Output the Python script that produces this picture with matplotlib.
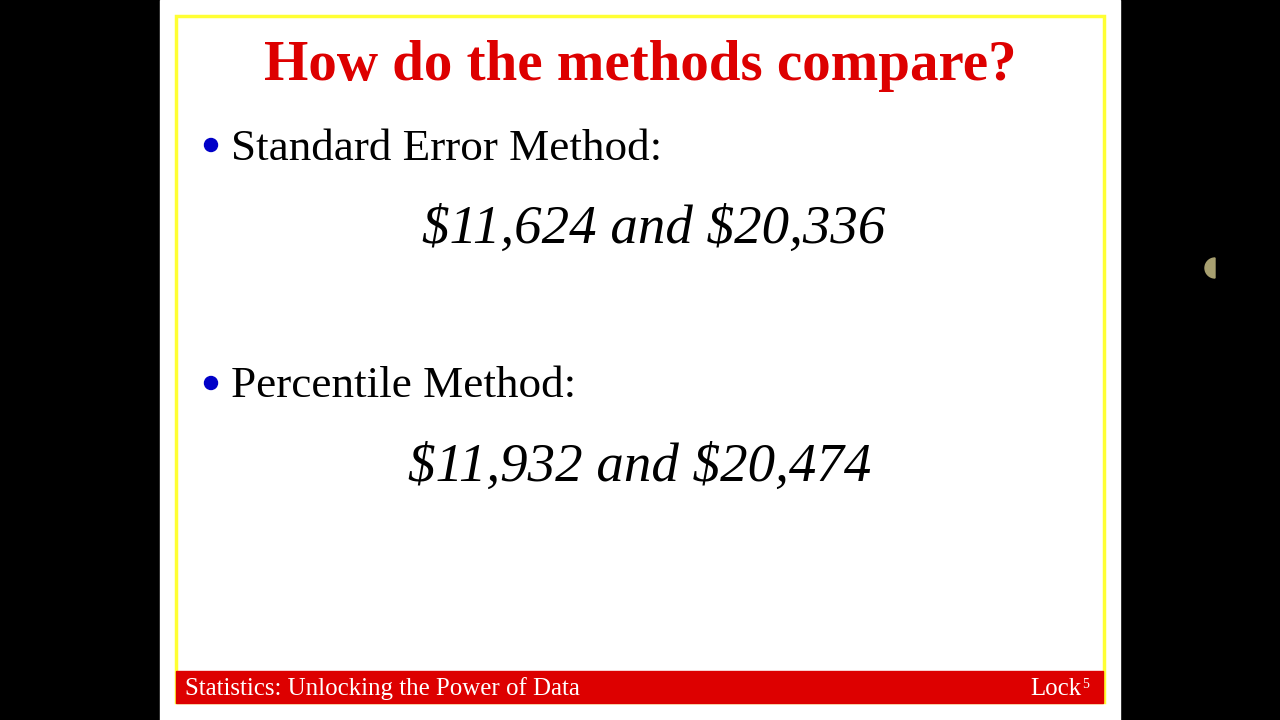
import matplotlib.pyplot as plt
from matplotlib.patches import Rectangle, Circle, Wedge

# slide content
title = "How do the methods compare?"
methods = ["Standard Error Method:", "Percentile Method:"]
lower = ["\\$11,624", "\\$11,932"]
upper = ["\\$20,336", "\\$20,474"]
footer_left = "Statistics: Unlocking the Power of Data"
footer_right = "Lock"

serif = ["Liberation Serif", "DejaVu Serif"]

fig = plt.figure(figsize=(12.8, 7.2), dpi=100, facecolor="black")
ax = fig.add_axes([0, 0, 1, 1])
ax.set_xlim(0, 1280)
ax.set_ylim(720, 0)
ax.axis("off")

# white slide and yellow frame
ax.add_patch(Rectangle((160, 0), 960, 720, color="white"))
ax.add_patch(Rectangle((176, 16), 928, 686, fill=False, ec="#ffff33", lw=2.5))

ax.text(640, 80, title, color="#dd0000", fontsize=41, fontweight="bold",
        family=serif, ha="center", va="baseline")

bullet_y = [145, 383]
text_base = [160, 397]
value_base = [243, 481]
value_x = [654, 640]
for name, lo, hi, by, tb, vb, vx in zip(methods, lower, upper, bullet_y,
                                         text_base, value_base, value_x):
    ax.add_patch(Circle((211, by), 6.5, color="#0000c8"))
    ax.text(231, tb, name, fontsize=32.5, family=serif, ha="left", va="baseline")
    ax.text(vx, vb, lo + " and " + hi, fontsize=39.5, family=serif,
            style="italic", ha="center", va="baseline")

# footer band
ax.add_patch(Rectangle((176, 671), 927, 32, color="#dd0000"))
ax.text(185, 695, footer_left, color="white", fontsize=17.9, family=serif,
        ha="left", va="baseline")
ax.text(1081, 695, footer_right, color="white", fontsize=17.9, family=serif,
        ha="right", va="baseline")
ax.text(1082, 688, "5", color="white", fontsize=10, family=serif,
        ha="left", va="baseline")

# pointer dot on the right edge
ax.add_patch(Wedge((1215, 268), 10, 90, 270, color="#a8a070"))

fig.savefig("out.png", dpi=100, facecolor="black")
